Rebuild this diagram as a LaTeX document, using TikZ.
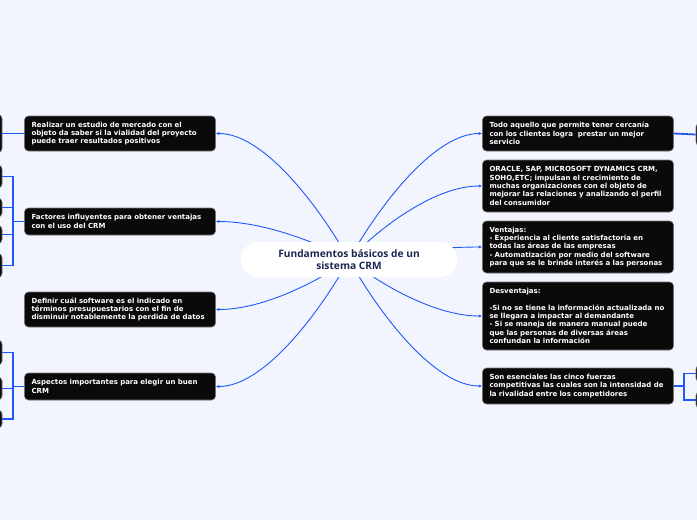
\documentclass[tikz,border=0pt]{standalone}
\usepackage{fontspec}
\newfontfamily\boxfont{DejaVu Sans}
\newfontfamily\titlefont{Open Sans}
\usetikzlibrary{arrows.meta}
\definecolor{bgc}{RGB}{243,245,254}
\definecolor{boxc}{RGB}{10,10,10}
\definecolor{linec}{RGB}{30,90,250}
\definecolor{titlec}{RGB}{28,40,80}
\tikzset{
  box/.style={fill=boxc, draw=black!55, line width=0.6pt, rounded corners=4pt,
    text=white, font=\boxfont\bfseries\fontsize{7.0}{8.3}\selectfont,
    text width=177pt, inner xsep=7pt, inner ysep=2pt, align=left, minimum width=190pt},
  stub/.style={fill=boxc, draw=black!55, line width=0.6pt, rounded corners=4pt, minimum width=62pt, inner sep=0pt},
  tree/.style={draw=linec, line width=1.8pt},
  conn/.style={draw=linec, line width=0.9pt, -{Latex[length=3.5pt,width=3.2pt]}},
  hub/.style={fill=white, rounded corners=17pt, minimum width=216pt, minimum height=35pt,
    text=titlec, font=\titlefont\bfseries\fontsize{10.2}{12}\selectfont, align=center, inner sep=0pt}
}
\begin{document}
\begin{tikzpicture}[x=1pt,y=-1pt]
\useasboundingbox (0,0) rectangle (697,520);
\clip (0,0) rectangle (697,520);
\fill[bgc] (0,0) rectangle (697,520);
% left boxes
\node[box, minimum height=35pt] (L1) at (120,133.5) {Realizar un estudio de mercado con el\\objeto da saber si la vialidad del proyecto\\puede traer resultados positivos};
\node[box, minimum height=27pt] (L2) at (120,221.5) {Factores influyentes para obtener ventajas\\con el uso del CRM};
\node[box, minimum height=35pt] (L3) at (120,309.5) {Definir cuál software es el indicado en\\términos presupuestarios con el fin de\\disminuir notablemente la perdida de datos};
\node[box, minimum height=27pt] (L4) at (120,386.5) {Aspectos importantes para elegir un buen\\CRM};
% right boxes
\node[box, minimum height=35pt] (R1) at (578,133.5) {Todo aquello que permite tener cercanía\\con los clientes logra~ prestar un mejor\\servicio};
\node[box, minimum height=52pt] (R2) at (578,186) {ORACLE, SAP, MICROSOFT DYNAMICS CRM,\\SOHO,ETC; impulsan el crecimiento de\\muchas organizaciones con el objeto de\\mejorar las relaciones y analizando el perfil\\del consumidor};
\node[box, minimum height=52pt] (R3) at (578,247) {Ventajas:\\- Experiencia al cliente satisfactoria en\\todas las áreas de las empresas\\- Automatización por medio del software\\para que se le brinde interés a las personas};
\node[box, minimum height=68pt] (R4) at (578,316) {Desventajas:\\[8.3pt]-Si no se tiene la información actualizada no\\se llegara a impactar al demandante\\- Si se maneja de manera manual puede\\que las personas de diversas áreas\\confundan la información};
\node[box, minimum height=36pt] (R5) at (578,386) {Son esenciales las cinco fuerzas\\competitivas las cuales son la intensidad de\\la rivalidad entre los competidores};
% truncated child boxes at the edges
\node[stub, minimum height=38pt] (L1a) at (-29,133.5) {};
\node[stub, minimum height=23pt] (L2a) at (-29,176.5) {};
\node[stub, minimum height=19pt] (L2b) at (-29,207.5) {};
\node[stub, minimum height=18pt] (L2c) at (-29,234.5) {};
\node[stub, minimum height=24pt] (L2d) at (-29,265.5) {};
\node[stub, minimum height=25pt] (L4a) at (-29,352.5) {};
\node[stub, minimum height=23pt] (L4b) at (-29,388.5) {};
\node[stub, minimum height=18pt] (L4c) at (-29,419) {};
\node[stub, minimum height=23pt] (R1a) at (727,134.5) {};
\node[stub, minimum height=17pt] (R5a) at (727,373.5) {};
\node[stub, minimum height=17pt] (R5b) at (727,400) {};
% trees
\draw[tree] (L1.west) -- (L1a.east);
\draw[tree] (L2.west) -- ++(-11,0) coordinate (J2);
\draw[tree] (J2) |- (L2a.east);
\draw[tree] (J2) |- (L2b.east);
\draw[tree] (J2) |- (L2c.east);
\draw[tree] (J2) |- (L2d.east);
\draw[tree] (L4.west) -- ++(-11,0) coordinate (J4);
\draw[tree] (J4) |- (L4a.east);
\draw[tree] (J4) |- (L4b.east);
\draw[tree] (J4) |- (L4c.east);
\draw[tree] (R1.east) -- (R1a.west);
\draw[tree] (R5.east) -- ++(10,0) coordinate (J5);
\draw[tree] (J5) |- (R5a.west);
\draw[tree] (J5) |- (R5b.west);
% curves from hub
\coordinate (c) at (349,259.5);
\draw[conn] (c) .. controls (315,200) and (262,133.5) .. (L1.east);
\draw[conn] (c) .. controls (315.5,241.6) and (262,221.5) .. (L2.east);
\draw[conn] (c) .. controls (315.5,283) and (262,309.5) .. (L3.east);
\draw[conn] (c) .. controls (315.5,319.2) and (262,386.5) .. (L4.east);
\draw[conn] (c) .. controls (382.5,200.3) and (436,133.5) .. (R1.west);
\draw[conn] (c) .. controls (382.5,225) and (436,186) .. (R2.west);
\draw[conn] (c) .. controls (382.5,253.6) and (436,247) .. (R3.west);
\draw[conn] (c) .. controls (382.5,286) and (436,316) .. (R4.west);
\draw[conn] (c) .. controls (382.5,319) and (436,386) .. (R5.west);
% hub
\node[hub] (hub) at (c) {Fundamentos básicos de un\\sistema CRM};
\end{tikzpicture}
\end{document}
